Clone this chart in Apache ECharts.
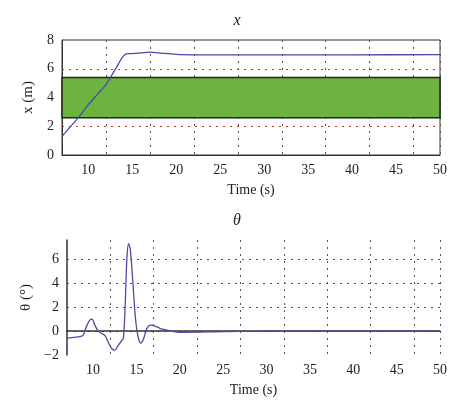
<!DOCTYPE html><html><head><meta charset="utf-8"><script src="https://cdn.jsdelivr.net/npm/echarts@6/dist/echarts.min.js"></script></head><body style="margin:0"><div id="c" style="width:474px;height:420px"></div><script>
const xData=[[7,1.3],[8,2.0],[9,2.7],[10,3.5],[11,4.2],[12,4.9],[13,5.9],[14,6.9],[14.5,7.05],[15,7.05],[16,7.1],[17,7.15],[18,7.1],[20,7.0],[22,6.97],[25,6.96],[30,6.96],[40,6.97],[50,6.98]];
const thData=[[7,-0.6],[8,-0.5],[8.8,-0.4],[9.2,0.3],[9.6,0.9],[9.9,1.0],[10.2,0.5],[10.6,0],[11,-0.2],[11.4,-0.4],[11.8,-1.0],[12.2,-1.5],[12.5,-1.6],[12.9,-1.2],[13.3,-0.8],[13.5,-0.6],[13.7,2],[13.9,6],[14.1,7.3],[14.3,6.8],[14.6,4],[14.9,1],[15.2,-0.5],[15.5,-1.0],[15.8,-0.7],[16.2,0.2],[16.6,0.5],[17,0.45],[17.5,0.3],[18,0.15],[19,0],[20,-0.1],[25,-0.05],[30,0],[50,0]];
const band=[2.6,5.4];
const redLines=[2,6];
const F='Liberation Serif';
const ax={color:'#222',fontFamily:F,fontSize:14};
const grid={lineStyle:{type:[2,5],color:'#555'}};
const c=echarts.init(document.getElementById('c'));
c.setOption({animation:false,
title:[{text:'x',left:'center',top:8,textStyle:{fontFamily:F,fontStyle:'italic',fontWeight:'normal',fontSize:16,color:'#222'}},
{text:'θ',left:'center',top:208,textStyle:{fontFamily:F,fontStyle:'italic',fontWeight:'normal',fontSize:16,color:'#222'}}],
grid:[{left:62,right:34,top:40,height:115,show:true,borderColor:'#333',borderWidth:1},{left:67,right:34,top:240,height:115}],
xAxis:[{gridIndex:0,type:'value',min:7,max:50,interval:5,axisLabel:{...ax,customValues:[10,15,20,25,30,35,40,45,50]},axisTick:{show:false},axisLine:{lineStyle:{color:'#333'}},splitLine:{show:true,...grid,showMinLine:false},name:'Time (s)',nameLocation:'middle',nameGap:28,nameTextStyle:ax},
{gridIndex:1,type:'value',min:7,max:50,interval:5,axisLabel:{...ax,customValues:[10,15,20,25,30,35,40,45,50]},axisTick:{show:false},axisLine:{lineStyle:{color:'#333',width:1.5}},splitLine:{show:true,...grid,showMinLine:false},name:'Time (s)',nameLocation:'middle',nameGap:28,nameTextStyle:ax}],
yAxis:[{gridIndex:0,type:'value',min:0,max:8,interval:2,axisLabel:ax,axisTick:{show:false},axisLine:{show:true,lineStyle:{color:'#333'}},splitLine:{show:false},name:'x (m)',nameLocation:'middle',nameGap:26,nameTextStyle:{...ax,fontSize:15}},
{gridIndex:1,type:'value',min:-2,max:7.6,interval:2,axisLabel:{...ax,showMaxLabel:false,formatter:v=>String(v).replace('-','−')},axisTick:{show:false},axisLine:{show:true,lineStyle:{color:'#333',width:1.5}},splitLine:{show:true,...grid,showMinLine:false,showMaxLine:false},name:'θ (°)',nameLocation:'middle',nameGap:32,nameTextStyle:{...ax,fontSize:15}}],
series:[
{type:'line',xAxisIndex:0,yAxisIndex:0,data:[],markArea:{silent:true,itemStyle:{color:'#6db33f',borderColor:'#222',borderWidth:1.5},data:[[{yAxis:band[0]},{yAxis:band[1]}]]},
 markLine:{silent:true,symbol:'none',label:{show:false},lineStyle:{color:'#c03030',type:[2,5],width:1},data:redLines.map(v=>({yAxis:v}))}},
{type:'line',xAxisIndex:0,yAxisIndex:0,data:xData,smooth:0.3,showSymbol:false,lineStyle:{color:'#4a4aa8',width:1.3},z:5},
{type:'line',xAxisIndex:1,yAxisIndex:1,data:thData,smooth:0.3,showSymbol:false,lineStyle:{color:'#4a4aa8',width:1.3}}
]});
</script></body></html>
